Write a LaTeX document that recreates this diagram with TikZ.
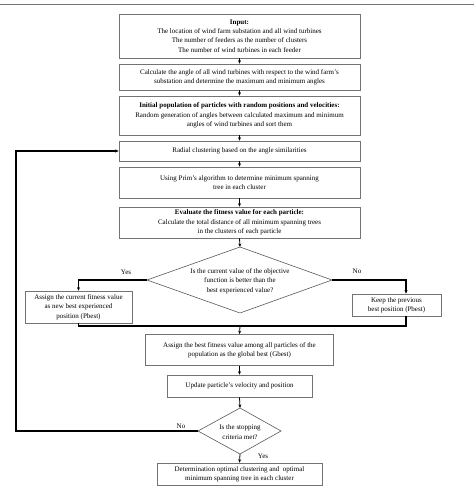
\documentclass[tikz,border=0pt]{standalone}
\usepackage{fontspec}
\setmainfont{Liberation Serif}
\usetikzlibrary{arrows.meta}
\begin{document}
\begin{tikzpicture}[x=1pt,y=-1pt,
  box/.style={draw=black!55, line width=0.6pt, fill=white, align=center, inner sep=1pt,
    font=\fontsize{7}{9.3}\selectfont},
  dtext/.style={align=center, inner sep=0pt, font=\fontsize{7}{9.3}\selectfont},
  lbl/.style={inner sep=0pt, font=\fontsize{7}{9}\selectfont},
  dshape/.style={draw=black!65, line width=0.6pt},
  arr/.style={-{Stealth[length=3.5pt,width=3pt]}, line width=0.8pt},
  conn/.style={line width=1.1pt}
]
\useasboundingbox (0,0) rectangle (474,498);
\draw[black!55, line width=1.4pt] (0,4.5) -- (474,4.5);

\node[box, minimum width=241, minimum height=44] (input) at (239.5,36)
  {\textbf{Input:}\\The location of wind farm substation and all wind turbines\\The number of feeders as the number of clusters\\The number of wind turbines in each feeder};
\node[box, minimum width=241, minimum height=26] (calc) at (239.5,77)
  {Calculate the angle of all wind turbines with respect to the wind farm's\\substation and determine the maximum and minimum angles};
\node[box, minimum width=241, minimum height=39] (init) at (239.5,115.5)
  {\textbf{Initial population of particles with random positions and velocities:}\\Random generation of angles between calculated maximum and minimum\\angles of wind turbines and sort them};
\node[box, minimum width=241, minimum height=20] (radial) at (239.5,151)
  {Radial clustering based on the angle similarities};
\node[box, minimum width=241, minimum height=31] (prim) at (239.5,182.5)
  {Using Prim's algorithm to determine minimum spanning\\tree in each cluster};
\node[box, minimum width=241, minimum height=31] (eval) at (239.5,222.5)
  {\textbf{Evaluate the fitness value for each particle:}\\Calculate the total distance of all minimum spanning trees\\in the clusters of each particle};

% decision 1
\coordinate (d1t) at (240,247);
\coordinate (d1r) at (332,280);
\coordinate (d1b) at (240,313);
\coordinate (d1l) at (147,280);
\draw[dshape] (d1t) -- (d1r) -- (d1b) -- (d1l) -- cycle;
\node[dtext] (d1) at (240,281)
  {Is the current value of the objective\\function is better than the\\best experienced value?};

\node[box, minimum width=107, minimum height=32] (lb) at (78.5,307)
  {Assign the current fitness value\\as new best experienced\\position (Pbest)};
\node[box, minimum width=89, minimum height=22] (rb) at (396.5,305)
  {Keep the previous\\best position (Pbest)};

\node[box, minimum width=188, minimum height=31] (gb) at (239.5,350)
  {Assign the best fitness value among all particles of the\\population as the global best (Gbest)};
\node[box, minimum width=145, minimum height=22] (up) at (239.5,386)
  {Update particle's velocity and position};

% decision 2
\coordinate (d2t) at (240,408);
\coordinate (d2r) at (281,431);
\coordinate (d2b) at (240,454);
\coordinate (d2l) at (198,431);
\draw[dshape] (d2t) -- (d2r) -- (d2b) -- (d2l) -- cycle;
\node[dtext] (d2) at (240,432) {Is the stopping\\criteria met?};

\node[box, minimum width=165, minimum height=22] (fin) at (239.5,474)
  {Determination optimal clustering and\ \ optimal\\minimum spanning tree in each cluster};

% labels
\node[lbl] at (126,272) {Yes};
\node[lbl] at (357,271) {No};
\node[lbl] at (181,426) {No};
\node[lbl] at (263,456) {Yes};

% connectors
\draw[arr] (input.south) -- (calc.north);
\draw[arr] (calc.south) -- (init.north);
\draw[arr] (init.south) -- (radial.north);
\draw[arr] (radial.south) -- (prim.north);
\draw[arr] (prim.south) -- (eval.north);
\draw[arr] (eval.south) -- (d1t);
\draw[conn, arr, line width=1.1pt] (d1l) -| (lb.north);
\coordinate (rbin) at ([xshift=9.5pt]rb.north);
\draw[conn, arr, line width=1.1pt] (d1r) -| (rbin);
\coordinate (m) at (240,326);
\draw[conn] (lb.south) |- (m);
\draw[conn] ([xshift=9.5pt]rb.south) |- (m);
\draw[arr] (m) -- (gb.north);
\draw[arr] (gb.south) -- (up.north);
\draw[arr] (up.south) -- (d2t);
\draw[arr] (d2b) -- (fin.north);
\coordinate (back) at (16,431);
\draw[conn, arr, line width=1.1pt] (d2l) -- (back) |- (radial.west);
\end{tikzpicture}
\end{document}
